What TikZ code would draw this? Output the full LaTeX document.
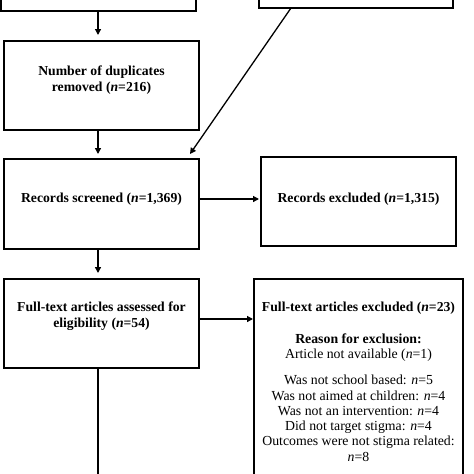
\documentclass[tikz,border=0pt]{standalone}
\usepackage{fontspec}
\setmainfont{Liberation Serif}
\usetikzlibrary{arrows.meta,calc}
\begin{document}
\begin{tikzpicture}[x=1pt,y=-1pt,
  box/.style={draw,line width=1.5pt,rectangle,inner sep=0pt},
  lbl/.style={align=center,font=\fontsize{13.7}{15.5}\selectfont\bfseries,inner sep=0pt},
  lst/.style={align=center,font=\fontsize{13.8}{15.3}\selectfont,inner sep=0pt},
  arr/.style={line width=1.3pt,-{Triangle[length=6pt,width=6pt]}},
  ln/.style={line width=1.3pt}]
\useasboundingbox (0,0) rectangle (474,474);
\clip (0,0) rectangle (474,474);
\node[box,minimum width=195pt,minimum height=90pt] (topL) at (98.5,-34) {};
\node[box,minimum width=194pt,minimum height=90pt] (topR) at (356,-37) {};
\node[box,minimum width=195pt,minimum height=89pt] (dup) at (101.5,85.5) {};
\node[box,minimum width=195pt,minimum height=90pt] (scr) at (101.5,204) {};
\node[box,minimum width=195pt,minimum height=89pt] (exc) at (358.5,201.5) {};
\node[box,minimum width=195pt,minimum height=89pt] (full) at (101.5,323.5) {};
\node[box,minimum width=209pt,minimum height=281pt] (fexc) at (358.5,419.5) {};
\node[lbl] (tdup) at (101.5,80) {Number of duplicates\\removed (\textit{n}=216)};
\node[lbl] (tscr) at (101.5,199.5) {Records screened (\textit{n}=1,369)};
\node[lbl] (texc) at (358.5,199.5) {Records excluded (\textit{n}=1,315)};
\node[lbl] (tfull) at (101.5,316) {Full-text articles assessed for\\eligibility (\textit{n}=54)};
\node[lbl] (tfexc) at (358.5,308.5) {Full-text articles excluded (\textit{n}=23)};
\node[lst,anchor=north] (tr) at (358.5,333.5) {\textbf{Reason for exclusion:}\\Article not available (\textit{n}=1)};
\node[lst,anchor=north] (tl) at (358.5,375) {Was not school based: \textit{n}=5\\Was not aimed at children: \textit{n}=4\\Was not an intervention: \textit{n}=4\\Did not target stigma: \textit{n}=4\\Outcomes were not stigma related:\\\textit{n}=8};
\coordinate (a1) at (98,11);
\coordinate (b1) at (98,35);
\draw[arr] (a1) -- (b1);
\coordinate (a2) at (98,130);
\coordinate (b2) at (98,154);
\draw[arr] (a2) -- (b2);
\coordinate (d1) at (291,8);
\coordinate (d2) at (190,154);
\draw[arr] (d1) -- (d2);
\coordinate (a3) at (98,249);
\coordinate (b3) at (98,273);
\draw[arr] (a3) -- (b3);
\draw[arr] (scr.east |- 0,199) -- (259,199);
\draw[arr] (full.east |- 0,319) -- (253,319);
\draw[ln] (full.south -| 98,0) -- (98,480);
\end{tikzpicture}
\end{document}
